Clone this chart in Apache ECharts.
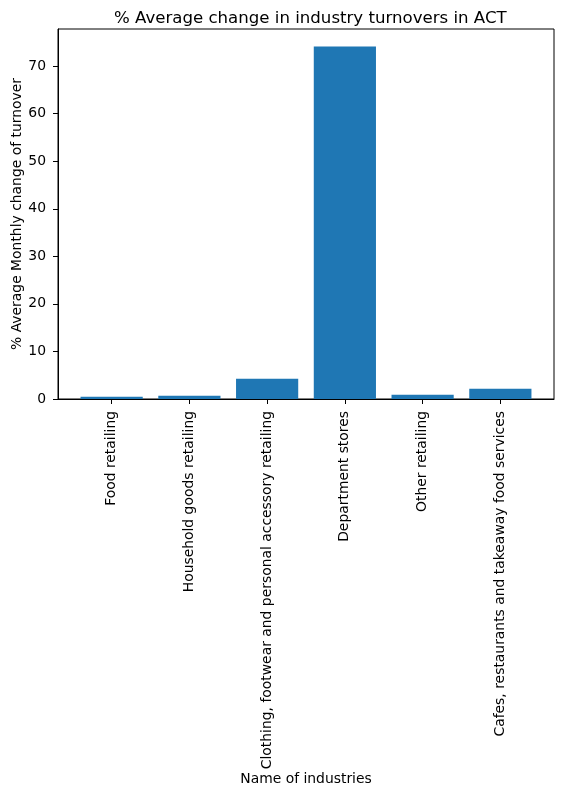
<!DOCTYPE html>
<html>
<head>
<meta charset="utf-8">
<script src="https://cdn.jsdelivr.net/npm/echarts@6/dist/echarts.min.js"></script>
<style>
html,body{margin:0;padding:0;background:#fff;}
#main{width:563px;height:797px;}
</style>
</head>
<body>
<div id="main"></div>
<script>
// 数据
var categories = ['Food retailing', 'Household goods retailing',
    'Clothing, footwear and personal accessory retailing', 'Department stores',
    'Other retailing', 'Cafes, restaurants and takeaway food services'];
var values = [0.48, 0.70, 4.27, 74.1, 0.90, 2.17];
var yTicks = [0, 10, 20, 30, 40, 50, 60, 70];
var xTicks = [0, 1, 2, 3, 4, 5];

var myChart = echarts.init(document.getElementById('main'));
var font = 'DejaVu Sans';
var option = {
    animation: false,
    backgroundColor: '#fff',
    title: {
        text: '% Average change in industry turnovers in ACT',
        left: 109,
        top: 5,
        textStyle: {fontFamily: font, fontSize: 16.6, fontWeight: 'normal', color: '#000'}
    },
    grid: {
        left: 58, right: 9, top: 29, bottom: 398,
        containLabel: false,
        outerBoundsMode: 'none',
        show: true, borderColor: '#000', borderWidth: 1, backgroundColor: 'transparent'
    },
    xAxis: {
        type: 'value',
        min: -0.69,
        max: 5.69,
        name: 'Name of industries',
        nameLocation: 'middle',
        nameGap: 373,
        nameMoveOverlap: false,
        nameTextStyle: {fontFamily: font, fontSize: 13.9, color: '#000'},
        splitLine: {show: false},
        axisLine: {show: true, onZero: false, lineStyle: {color: '#000'}},
        axisTick: {show: true, length: 5, lineStyle: {color: '#000'}, customValues: xTicks},
        axisLabel: {
            rotate: 90,
            margin: 12,
            fontFamily: font, fontSize: 13.9, color: '#000',
            customValues: xTicks,
            formatter: function (v) {
                return categories[Math.round(v)];
            }
        }
    },
    yAxis: {
        type: 'value',
        min: 0,
        max: 77.8,
        name: '% Average Monthly change of turnover',
        nameLocation: 'middle',
        nameGap: 34,
        nameMoveOverlap: false,
        nameTextStyle: {fontFamily: font, fontSize: 13.9, color: '#000'},
        splitLine: {show: false},
        axisLine: {show: true, onZero: false, lineStyle: {color: '#000'}},
        axisTick: {show: true, length: 5, lineStyle: {color: '#000'}, customValues: yTicks},
        axisLabel: {
            margin: 12,
            fontFamily: font, fontSize: 13.9, color: '#000',
            customValues: yTicks
        }
    },
    series: [{
        type: 'bar',
        barWidth: '80%',
        itemStyle: {color: '#1f77b4'},
        data: values.map(function (v, i) { return [i, v]; })
    }]
};
myChart.setOption(option);
</script>
</body>
</html>
